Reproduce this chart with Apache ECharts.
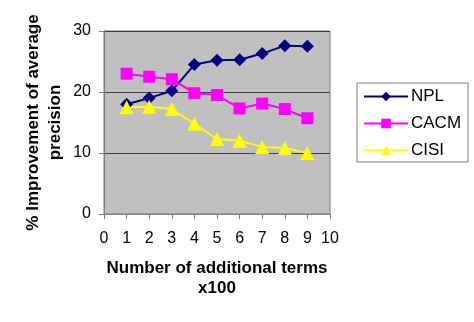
<!DOCTYPE html>
<html><head><meta charset="utf-8">
<script src="https://cdn.jsdelivr.net/npm/echarts@6/dist/echarts.min.js"></script>
<style>html,body{margin:0;padding:0;background:#fff}#c{width:474px;height:322px}</style>
</head><body><div id="c"></div>
<script>
const xValues = [1, 2, 3, 4, 5, 6, 7, 8, 9];
const npl  = [18.0, 19.0, 20.2, 24.5, 25.2, 25.3, 26.3, 27.6, 27.5];
const cacm = [23.0, 22.5, 22.1, 19.8, 19.5, 17.3, 18.1, 17.2, 15.7];
const cisi = [17.5, 17.6, 17.2, 14.8, 12.3, 12.0, 11.0, 10.8, 10.0];
const seriesNames = ['NPL', 'CACM', 'CISI'];
const xTitle = 'Number of additional terms\nx100';
const yTitle = '% Improvement of average\nprecision';

const font = 'Liberation Sans, Arial, sans-serif';
const pair = arr => xValues.map((x, i) => [x, arr[i]]);
const chart = echarts.init(document.getElementById('c'));
chart.setOption({
  animation: false,
  backgroundColor: '#fff',
  grid: { left: 104, top: 31, width: 226, height: 183, show: true,
          backgroundColor: '#c0c0c0', borderColor: '#808080', borderWidth: 1 },
  xAxis: { type: 'value', min: 0, max: 10, interval: 1,
    name: xTitle, nameLocation: 'middle', nameGap: 44,
    nameTextStyle: { fontFamily: font, fontSize: 17, fontWeight: 'bold', color: '#000', lineHeight: 20, verticalAlign: 'top' },
    axisLine: { lineStyle: { color: '#808080' } },
    axisTick: { show: true, length: 5, lineStyle: { color: '#808080' } },
    axisLabel: { fontFamily: font, fontSize: 16, color: '#000', margin: 17 },
    splitLine: { show: false } },
  yAxis: { type: 'value', min: 0, max: 30, interval: 10,
    name: yTitle, nameLocation: 'middle', nameGap: 38,
    nameTextStyle: { fontFamily: font, fontSize: 17, fontWeight: 'bold', color: '#000', lineHeight: 22 },
    axisLine: { show: true, lineStyle: { color: '#808080' } },
    axisTick: { show: true, length: 5, lineStyle: { color: '#808080' } },
    axisLabel: { fontFamily: font, fontSize: 16, color: '#000', margin: 13 },
    splitLine: { show: true, lineStyle: { color: '#404040', width: 1 } } },
  legend: { orient: 'vertical', left: 357, top: 83,
    padding: [5, 7, 3, 6], itemGap: 10, itemWidth: 44, itemHeight: 12,
    borderColor: '#808080', borderWidth: 1, backgroundColor: '#fff',
    textStyle: { fontFamily: font, fontSize: 17, color: '#000', lineHeight: 17, padding: [0, 0, 0, -2] },
    data: seriesNames },
  series: [
    { name: seriesNames[0], type: 'line', data: pair(npl), symbol: 'diamond', symbolSize: 13,
      itemStyle: { color: '#000080' }, lineStyle: { color: '#000080', width: 2 } },
    { name: seriesNames[1], type: 'line', data: pair(cacm), symbol: 'rect', symbolSize: 12,
      itemStyle: { color: '#ff00ff' }, lineStyle: { color: '#ff00ff', width: 2 } },
    { name: seriesNames[2], type: 'line', data: pair(cisi), symbol: 'triangle', symbolSize: 14,
      itemStyle: { color: '#ffff00' }, lineStyle: { color: '#ffff00', width: 2 } }
  ]
});
</script></body></html>
